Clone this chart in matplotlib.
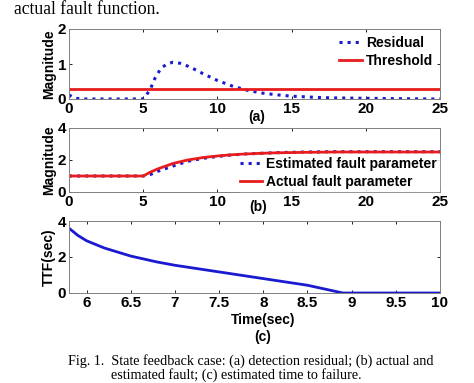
import matplotlib
matplotlib.use('Agg')
import matplotlib.pyplot as plt

plt.rcParams['font.family'] = 'Liberation Sans'
plt.rcParams['font.weight'] = 'bold'

# (a) detection residual
res_t = [0, 0.2, 0.5, 1, 2, 5, 5.2, 5.5, 5.8, 6.2, 6.6, 7.0, 7.5, 8, 8.5, 9, 10, 11, 12, 13, 14, 15, 16, 17, 18, 20, 22, 25]
res_v = [0.12, 0.06, 0.02, 0.0, 0.0, 0.0, 0.1, 0.3, 0.6, 0.88, 1.0, 1.05, 1.02, 0.94, 0.84, 0.73, 0.53, 0.37, 0.25, 0.17, 0.12, 0.08, 0.06, 0.04, 0.03, 0.02, 0.01, 0.0]
thr_t = [0, 25]
thr_v = [0.3, 0.3]

# (b) fault parameter
act_t = [0, 5, 5.5, 6, 7, 8, 9, 10, 11, 12, 13, 14, 16, 18, 20, 25]
act_v = [1.0, 1.0, 1.25, 1.45, 1.78, 2.0, 2.15, 2.25, 2.33, 2.38, 2.42, 2.45, 2.48, 2.5, 2.5, 2.5]
est_t = [0, 5, 5.5, 6, 7, 8, 9, 10, 11, 12, 13, 14, 16, 18, 20, 25]
est_v = [1.0, 1.0, 1.1, 1.3, 1.62, 1.92, 2.1, 2.22, 2.32, 2.38, 2.42, 2.46, 2.5, 2.52, 2.52, 2.52]

# (c) time to failure
ttf_t = [5.8, 5.9, 6.0, 6.2, 6.5, 6.8, 7.0, 7.5, 8.0, 8.5, 8.9, 9.5, 10]
ttf_v = [3.6, 3.2, 2.9, 2.5, 2.05, 1.72, 1.54, 1.17, 0.8, 0.43, 0.0, 0.0, 0.0]

W, H = 474, 383
fig = plt.figure(figsize=(W / 100, H / 100), dpi=100)

def box(l, t, r, b):
    return [l / W, 1 - b / H, (r - l) / W, (b - t) / H]

def style(ax):
    ax.tick_params(direction='in', top=True, right=True, length=2.5, width=0.6,
                   labelsize=11, pad=2, colors='black')
    for s in ax.spines.values():
        s.set_color('#808080')
        s.set_linewidth(0.7)

blue = '#1a1ad0'
red = '#e81c1c'

ax1 = fig.add_axes(box(69, 29, 440, 99))
ax1.plot(res_t, res_v, ':', color=blue, lw=2.2, label='Residual')
ax1.plot(thr_t, thr_v, '-', color=red, lw=2, label='Threshold')
ax1.set_xlim(0, 25)
ax1.set_ylim(0, 2)
ax1.set_xticks([0, 5, 10, 15, 20, 25])
ax1.set_yticks([0, 1, 2])
ax1.set_ylabel('Magnitude', fontsize=10, fontweight='bold', labelpad=1)
ax1.legend(loc='upper right', frameon=False, fontsize=10, handlelength=1.6,
           handletextpad=0.3, borderaxespad=0.1, labelspacing=0.3)
style(ax1)

ax2 = fig.add_axes(box(69, 128, 440, 192))
ax2.plot(est_t, est_v, ':', color=blue, lw=2.2, label='Estimated fault parameter')
ax2.plot(act_t, act_v, '-', color=red, lw=2, label='Actual fault parameter')
ax2.set_xlim(0, 25)
ax2.set_ylim(0, 4)
ax2.set_xticks([0, 5, 10, 15, 20, 25])
ax2.set_yticks([0, 2, 4])
ax2.set_ylabel('Magnitude', fontsize=10, fontweight='bold', labelpad=1)
ax2.legend(loc='lower right', frameon=True, facecolor='white', edgecolor='white',
           fancybox=False, fontsize=10, handlelength=1.6, handletextpad=0.3,
           borderaxespad=0.1, labelspacing=0.3, borderpad=0.1)
style(ax2)

ax3 = fig.add_axes(box(69, 221, 440, 293))
ax3.plot(ttf_t, ttf_v, '-', color=blue, lw=2)
ax3.set_xlim(5.8, 10)
ax3.set_ylim(0, 4)
ax3.set_xticks([6, 6.5, 7, 7.5, 8, 8.5, 9, 9.5, 10])
ax3.set_xticklabels(['6', '6.5', '7', '7.5', '8', '8.5', '9', '9.5', '10'])
ax3.set_yticks([0, 2, 4])
ax3.set_ylabel('TTF(sec)', fontsize=10, fontweight='bold', labelpad=1)
style(ax3)

def ptext(x, y, s, **kw):
    fig.text(x / W, 1 - y / H, s, **kw)

ptext(257, 117, '(a)', ha='center', va='center', fontsize=10, fontweight='bold')
ptext(258, 207, '(b)', ha='center', va='center', fontsize=10, fontweight='bold')
ptext(263, 320, 'Time(sec)', ha='center', va='center', fontsize=10, fontweight='bold')
ptext(263, 337, '(c)', ha='center', va='center', fontsize=10, fontweight='bold')

ptext(14, 10, 'actual fault function.', ha='left', va='center', fontsize=12.7,
      family='Liberation Serif', fontweight='normal')
ptext(251, 361, 'Fig. 1.  State feedback case: (a) detection residual; (b) actual and',
      ha='center', va='center', fontsize=10.2, family='Liberation Serif', fontweight='normal')
ptext(236, 375, 'estimated fault; (c) estimated time to failure.',
      ha='center', va='center', fontsize=10.2, family='Liberation Serif', fontweight='normal')

fig.savefig('out.png', dpi=100)
